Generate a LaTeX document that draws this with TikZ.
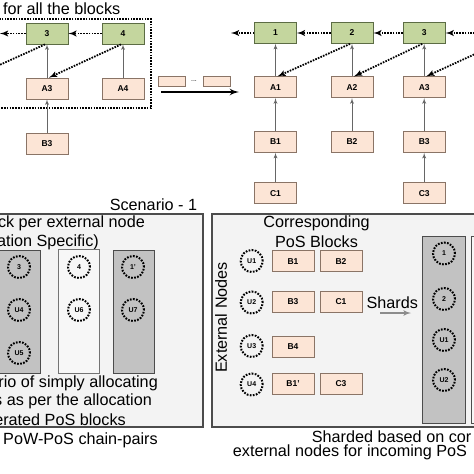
\documentclass[tikz,border=0pt]{standalone}
\usepackage{fontspec}
\setmainfont{Liberation Sans}
\usetikzlibrary{shapes,arrows}

\definecolor{powgreen}{RGB}{196,214,158}
\definecolor{powedge}{RGB}{92,108,68}
\definecolor{posfill}{RGB}{252,229,214}
\definecolor{posedge}{RGB}{138,116,102}
\definecolor{panelfill}{RGB}{243,243,243}
\definecolor{shardfill}{RGB}{194,194,194}

\begin{document}
\begin{tikzpicture}[x=1pt,y=-1pt,>=latex',
  pow node/.style={rectangle, draw=powedge, fill=powgreen, line width=0.8pt, minimum width=42pt, minimum height=21pt, inner sep=0pt, font=\fontsize{8.5}{10}\selectfont\bfseries},
  pos node/.style={rectangle, draw=posedge, fill=posfill, line width=0.8pt, minimum width=42pt, minimum height=21pt, inner sep=0pt, font=\fontsize{8.5}{10}\selectfont\bfseries},
  user node/.style={circle, draw, line width=2pt, dash pattern=on 1.7pt off 1.4pt, minimum size=22pt, inner sep=0pt, font=\fontsize{7}{8}\selectfont\bfseries},
  big text/.style={inner sep=0pt, font=\fontsize{16.2}{19}\selectfont},
  link/.style={->, color=black!60, line width=0.9pt},
  ref link/.style={->, line width=1.8pt, dash pattern=on 1.6pt off 1.2pt},
  frame/.style={line width=1.8pt, dash pattern=on 1.6pt off 1.2pt},
  panel/.style={draw=black!70, fill=panelfill, line width=1.3pt},
  shard col/.style={draw=black!70, fill=shardfill, line width=1pt},
  free col/.style={draw=black!55, fill=white!97!black, line width=1pt}]

  \useasboundingbox (0,0) rectangle (474,474);
  \clip (0,0) rectangle (474,474);

  \node[big text, anchor=west] (alltext) at (3,9) {for all the blocks};
  \draw[frame] (-5,19) rectangle (151,108);

  \node[pow node] (l3) at (47,33.5) {3};
  \node[pow node] (l4) at (123,33.5) {4};
  \node[pos node] (la3) at (47,88.5) {A3};
  \node[pos node] (la4) at (123,88.5) {A4};
  \node[pos node] (lb3) at (47,143.5) {B3};
  \coordinate (lout) at (0,33.5);
  \coordinate (la2) at (-27,77);

  \node[pos node, minimum width=27pt, minimum height=10pt] (m1) at (171.5,81.7) {};
  \node[pos node, minimum width=27pt, minimum height=10pt] (m2) at (216.5,81.7) {};
  \node[inner sep=0pt, font=\fontsize{7}{8}\selectfont] (mdots) at (194,81) {...};
  \coordinate (mfrom) at (161,92);
  \coordinate (mto) at (239,92);

  \node[pow node] (g1) at (275.5,33) {1};
  \node[pow node] (g2) at (352,33) {2};
  \node[pow node] (g3) at (424.2,33) {3};
  \node[pos node] (a1) at (275.5,87.3) {A1};
  \node[pos node] (a2) at (352,87.3) {A2};
  \node[pos node] (a3) at (424.2,87.3) {A3};
  \node[pos node] (b1) at (275.5,142) {B1};
  \node[pos node] (b2) at (352,142) {B2};
  \node[pos node] (b3) at (424.2,142) {B3};
  \node[pos node] (c1) at (275.5,193.3) {C1};
  \node[pos node] (c3) at (424.2,193.3) {C3};
  \coordinate (gout) at (231,33);
  \coordinate (g4) at (500,33);
  \coordinate (g4s) at (497,44);

  \path[link]
    (la3) edge (l3)
    (la4) edge (l4)
    (lb3) edge (la3)
    (a1) edge (g1)
    (b1) edge (a1)
    (c1) edge (b1)
    (a2) edge (g2)
    (b2) edge (a2)
    (a3) edge (g3)
    (b3) edge (a3)
    (c3) edge (b3);

  \path[ref link]
    (l3) edge (lout)
    (l4) edge (l3)
    ([xshift=-2pt]l3.south) edge (la2)
    ([xshift=-2pt]l4.south) edge ([xshift=2pt]la3.north)
    (g1) edge (gout)
    (g2) edge (g1)
    (g3) edge (g2)
    (g4) edge (g3)
    ([xshift=-2pt]g2.south) edge ([xshift=2pt]a1.north)
    ([xshift=-2pt]g3.south) edge ([xshift=2pt]a2.north)
    (g4s) edge ([xshift=2pt]a3.north);

  \path[->, line width=2.2pt] (mfrom) edge (mto);

  \node[big text] (scen) at (153.5,205) {Scenario - 1};
  \draw[panel] (-5,214) rectangle (203,427);
  \node[big text, anchor=east] (ltop1) at (145,223.5) {ck per external node};
  \node[big text, anchor=east] (ltop2) at (99,242) {ation Specific)};
  \draw[shard col] (-5,250) rectangle (40,373);
  \draw[free col] (58,249) rectangle (99,373);
  \draw[shard col] (113,250) rectangle (154,373);
  \node[user node] (c13) at (19,267) {3};
  \node[user node] (cu4) at (19,310) {U4};
  \node[user node] (cu5) at (19,353) {U5};
  \node[user node] (c24) at (79,267) {4};
  \node[user node] (cu6) at (79,310) {U6};
  \node[user node] (c31) at (133,267) {1'};
  \node[user node] (cu7) at (133,310) {U7};
  \node[big text, anchor=east] (lbot1) at (158,383.5) {rio of simply allocating};
  \node[big text, anchor=east] (lbot2) at (152,401.5) {s as per the allocation};
  \node[big text, anchor=east] (lbot3) at (126,419.5) {erated PoS blocks};
  \node[big text, anchor=west] (pairs) at (3,440) {PoW-PoS chain-pairs};

  \draw[panel] (212,214) rectangle (490,427);
  \node[big text] (corr1) at (316.5,223.5) {Corresponding};
  \node[big text] (corr2) at (316.5,242) {PoS Blocks};
  \node[big text, rotate=90] (ext) at (221,317.5) {External Nodes};
  \node[user node] (u1) at (251.7,261) {U1};
  \node[user node] (u2) at (251.7,302.5) {U2};
  \node[user node] (u3) at (251.7,346) {U3};
  \node[user node] (u4) at (251.7,384.5) {U4};
  \node[pos node] (pb1) at (293,261.3) {B1};
  \node[pos node] (pb2) at (341,261.3) {B2};
  \node[pos node] (pb3) at (293,302) {B3};
  \node[pos node] (pc1) at (341,302) {C1};
  \node[pos node] (pb4) at (293,346.5) {B4};
  \node[pos node] (pb1p) at (293,384) {B1'};
  \node[pos node] (pc3) at (341,384) {C3};
  \node[big text] (shards) at (392.2,302.5) {Shards};
  \coordinate (shfrom) at (380,313);
  \coordinate (shto) at (411,313);
  \path[->, color=black!45, line width=1.6pt] (shfrom) edge (shto);
  \draw[shard col] (422.7,236.7) rectangle (465,423.3);
  \draw[free col, draw=black!70, line width=1.5pt] (471.7,236.7) rectangle (495,423.3);
  \node[user node] (s1) at (444,253.5) {1};
  \node[user node] (s2) at (444,299) {2};
  \node[user node] (su1) at (444,340) {U1};
  \node[user node] (su2) at (444,380) {U2};
  \node[big text, anchor=west] (shb1) at (311.7,436.3) {Sharded based on cor};
  \node[big text, anchor=west] (shb2) at (232.7,452.5) {external nodes for incoming PoS};
\end{tikzpicture}
\end{document}
